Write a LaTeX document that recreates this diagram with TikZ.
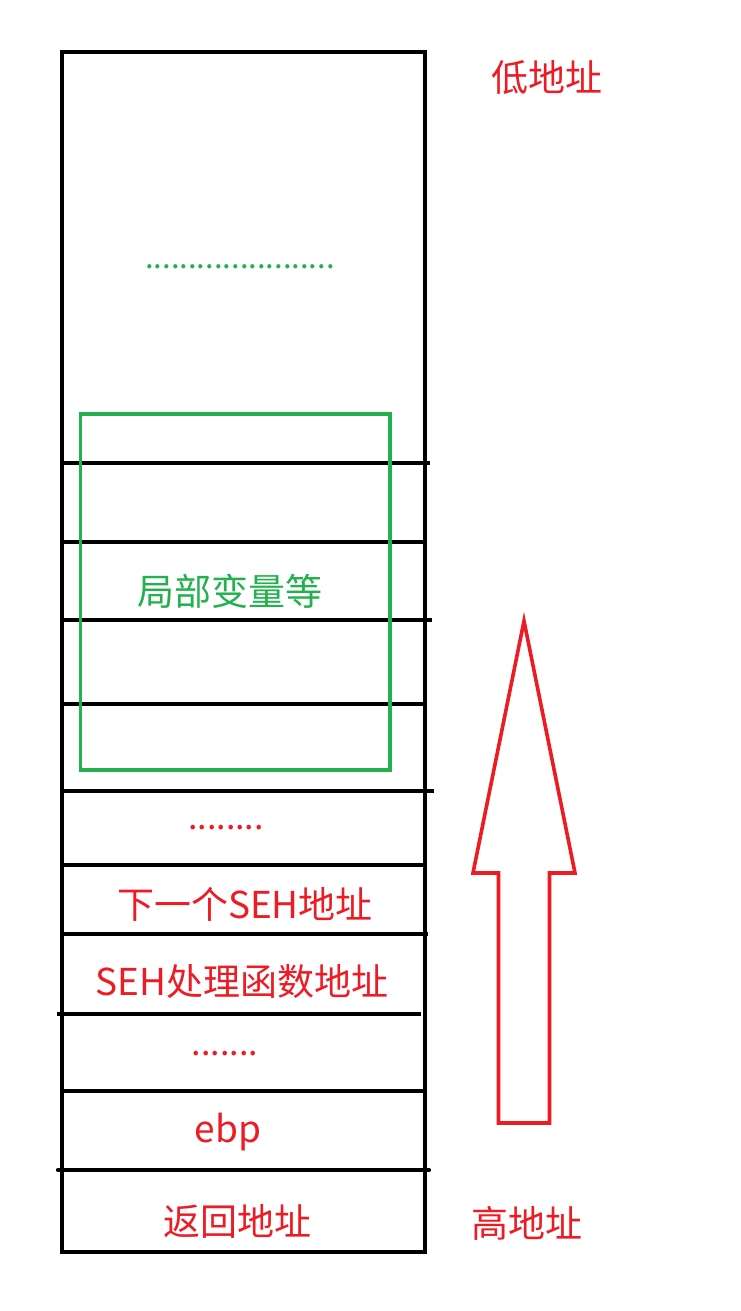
\documentclass[tikz,border=0pt]{standalone}
\usepackage{fontspec}
\setmainfont{Noto Sans CJK SC}
\begin{document}
\begin{tikzpicture}[x=1pt,y=-1pt,
  blk/.style={line width=4.2pt,black},
  grn/.style={line width=3.6pt,draw=pgreen},
  redtxt/.style={text=pred,font=\fontsize{37}{40}\selectfont,inner sep=0pt,anchor=center},
  grntxt/.style={text=pgreen,font=\fontsize{37}{40}\selectfont,inner sep=0pt,anchor=center},
  dots/.style={inner sep=0pt,anchor=center}]
\definecolor{pred}{HTML}{ED1C24}
\definecolor{pgreen}{HTML}{22B14C}
\fill[white] (0,0) rectangle (741,1311);
\useasboundingbox (0,0) rectangle (741,1311);
% stack frame
\draw[blk] (62,52) rectangle (425,1252);
\draw[blk] (61,463) -- (430,463);
\draw[blk] (61,542) -- (424,542);
\draw[blk] (64,620) -- (432,620);
\draw[blk] (61,704) -- (424,704);
\draw[blk] (61,791) -- (434,791);
\draw[blk] (61,865) -- (424,865);
\draw[blk] (61,934) -- (428,934);
\draw[blk] (57,1014) -- (421,1014);
\draw[blk] (61,1091) -- (424,1091);
\draw[blk,line cap=round] (58,1170) -- (429,1170);
% green box
\draw[grn] (80.5,414) rectangle (390,770);
% arrow
\draw[line width=3.6pt,draw=pred,line join=miter]
  (524,621) -- (575,873) -- (549.5,873) -- (549.5,1123) -- (498.5,1123)
  -- (498.5,873) -- (473,873) -- cycle;
% labels
\node[redtxt] (low) at (547,78) {低地址};
\node[redtxt] (high) at (527,1223) {高地址};
\node[dots,text=pgreen,font=\fontsize{31}{33}\selectfont] (gdots) at (240,267) {......................};
\node[grntxt] (locals) at (230,591) {局部变量等};
\node[dots,text=pred,font=\fontsize{34}{36}\selectfont] (rdots1) at (226,828) {........};
\node[redtxt] (nextseh) at (245,904) {下一个SEH地址};
\node[redtxt] (sehfn) at (242,981) {SEH处理函数地址};
\node[dots,text=pred,font=\fontsize{34}{36}\selectfont] (rdots2) at (225,1054) {.......};
\node[redtxt] (ebp) at (228,1132) {ebp};
\node[redtxt] (ret) at (237,1221) {返回地址};
\end{tikzpicture}
\end{document}
